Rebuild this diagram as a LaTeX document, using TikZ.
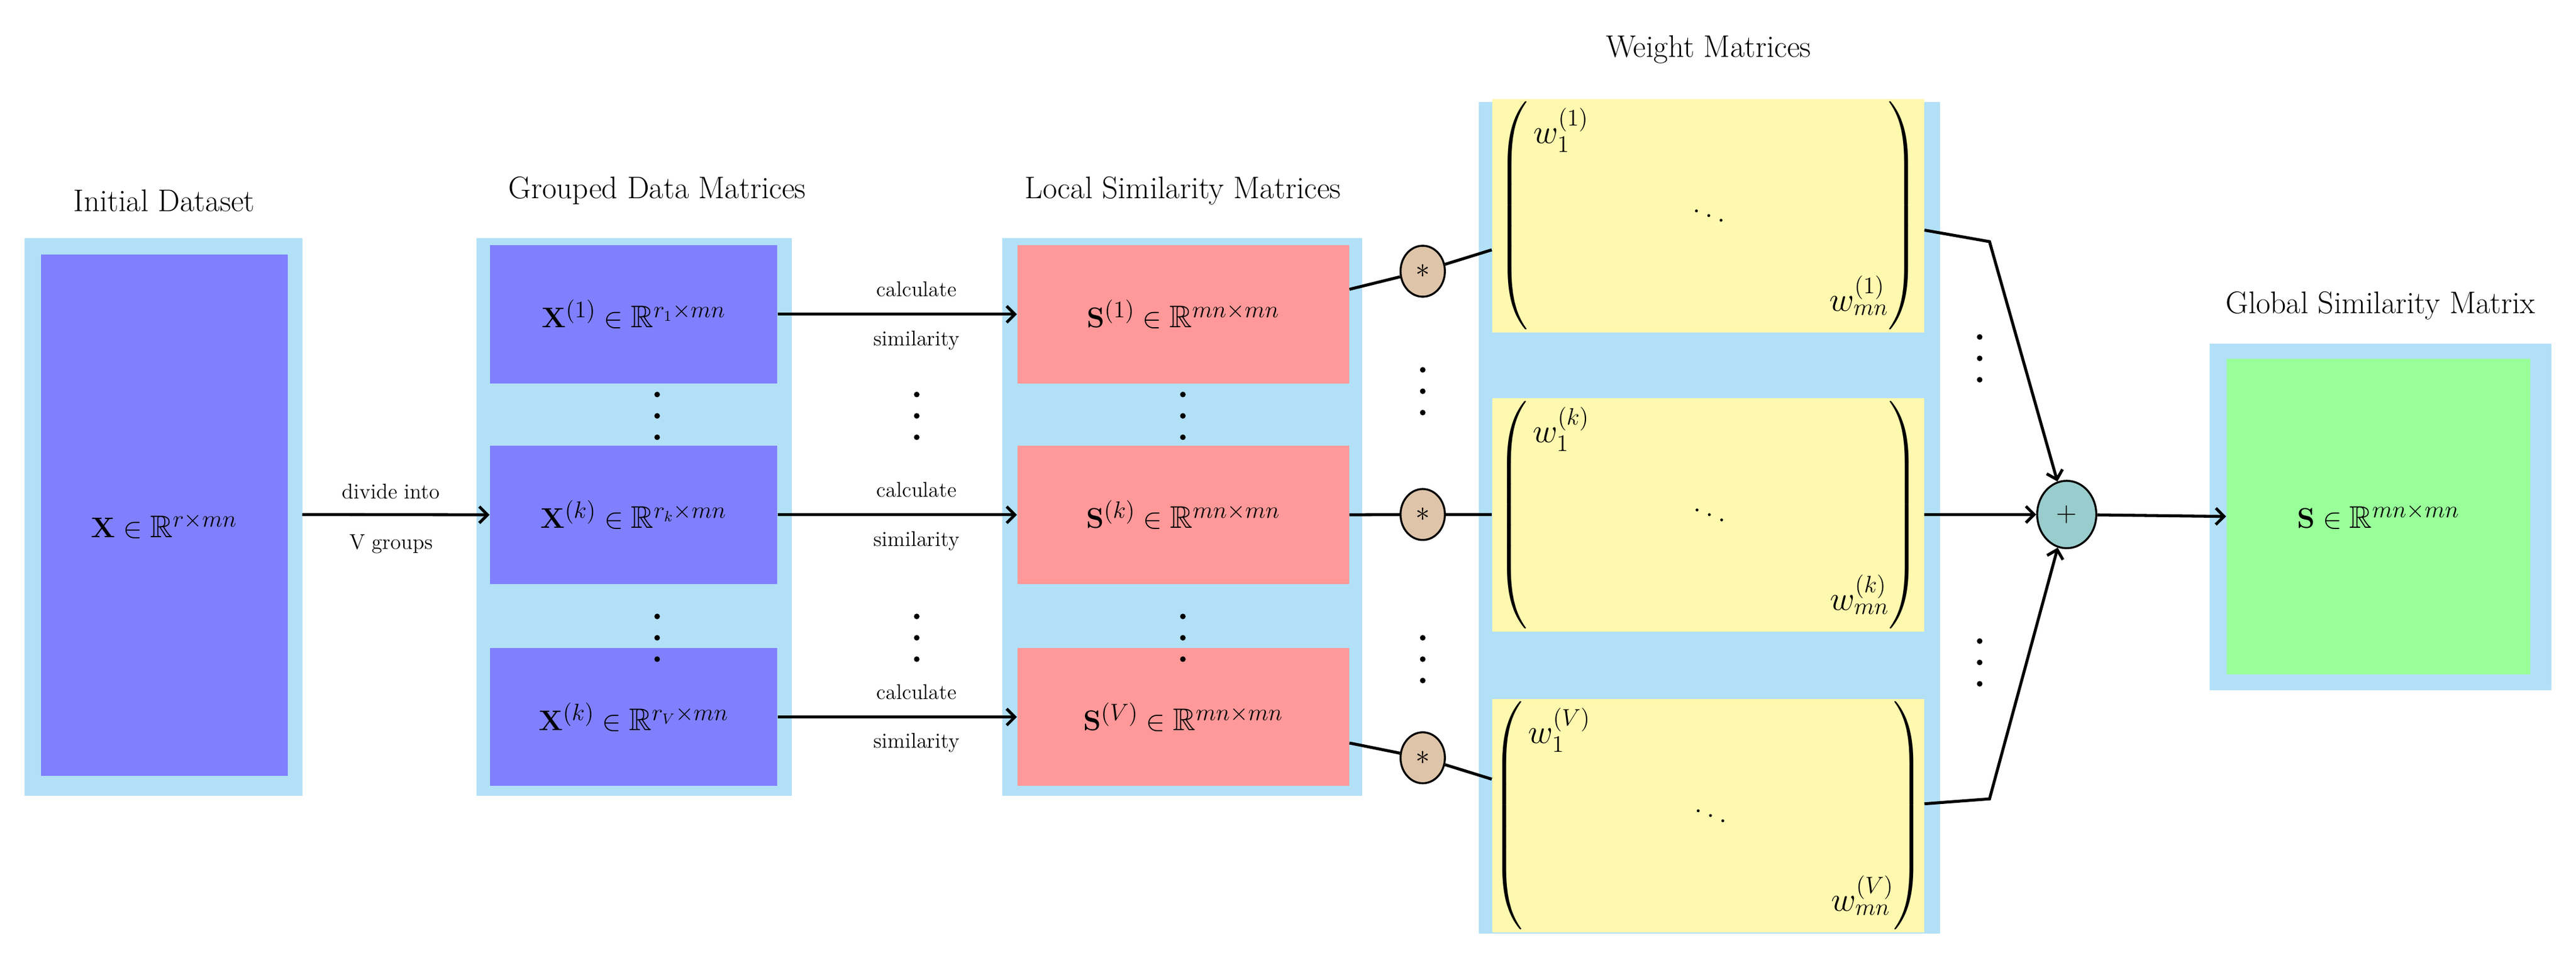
\documentclass[tikz,border=0pt]{standalone}
\usepackage{amsmath,amssymb}
\usetikzlibrary{shapes.geometric,arrows.meta}
\definecolor{lb}{RGB}{178,224,247}
\definecolor{pu}{RGB}{128,128,255}
\definecolor{rd}{RGB}{255,153,153}
\definecolor{ye}{RGB}{255,248,175}
\definecolor{gr}{RGB}{153,255,153}
\definecolor{tan1}{RGB}{222,196,168}
\definecolor{teal1}{RGB}{153,204,204}
\begin{document}
\fontsize{19}{23}\selectfont
\begin{tikzpicture}[x=1pt,y=-1pt,
  lab/.style={font=\fontsize{13}{15}\selectfont},
  ttl/.style={font=\fontsize{19}{23}\selectfont},
  con/.style={line width=1.8pt},
  arr/.style={line width=1.8pt,->,>={Straight Barb[length=5pt,width=10pt]}},
  star/.style={ellipse,draw,line width=1.2pt,fill=tan1,minimum width=27pt,minimum height=31pt,inner sep=0pt},
  plus/.style={ellipse,draw,line width=1.2pt,fill=teal1,minimum width=36pt,minimum height=41pt,inner sep=0pt}]
\useasboundingbox (0,0) rectangle (1568,584);
\fill[white] (0,0) rectangle (1568,584);
% Initial
\fill[lb] (15,145) rectangle (184,484);
\fill[pu] (25,155) rectangle (175,472);
\node[ttl] (t1) at (100,122) {Initial Dataset};
\node (x) at (100,320) {$\mathbf{X}\in\mathbb{R}^{r\times mn}$};
\coordinate (xr) at (184,313);
% grouped
\fill[lb] (290,145) rectangle (482,484);
\node[ttl] (t2) at (400,116) {Grouped Data Matrices};
\foreach \i/\y/\t in {1/149/{\mathbf{X}^{(1)}\in\mathbb{R}^{r_1\times mn}},2/271/{\mathbf{X}^{(k)}\in\mathbb{R}^{r_k\times mn}},3/394/{\mathbf{X}^{(k)}\in\mathbb{R}^{r_V\times mn}}}{
  \node[fill=pu,minimum width=175pt,minimum height=84pt,anchor=north west,inner sep=0pt] (g\i) at (298,\y) {$\t$};
}
\draw[arr] (xr) -- (g2.west);
\node[lab] (d1) at (238,299) {divide into};
\node[lab] (d2) at (238,331) {V groups};
% local
\fill[lb] (610,145) rectangle (829,484);
\foreach \i/\y/\t in {1/149/{\mathbf{S}^{(1)}\in\mathbb{R}^{mn\times mn}},2/271/{\mathbf{S}^{(k)}\in\mathbb{R}^{mn\times mn}},3/394/{\mathbf{S}^{(V)}\in\mathbb{R}^{mn\times mn}}}{
  \node[fill=rd,minimum width=202pt,minimum height=84pt,anchor=north west,inner sep=0pt] (s\i) at (619,\y) {$\t$};
  \draw[arr] (g\i.east) -- (s\i.west);
  \node[lab] (c\i) at (558,\y+27) {calculate};
  \node[lab] (m\i) at (558,\y+58) {similarity};
}
\node[ttl] (t3) at (720,116) {Local Similarity Matrices};
% dots
\foreach \x in {400,558,720}{\foreach \y in {240,375}{\foreach \d in {0,13,26}{\fill (\x,\y+\d) circle (1.7pt);}}}
\foreach \x/\y in {866/225, 866/388, 1205/205, 1205/390, 1038/210, 1038/392}{\foreach \d in {0,13,26}{\fill (\x,\y+\d) circle (1.7pt);}}
% weight
\fill[lb] (900,62) rectangle (1181,568);
\node[ttl] (t4) at (1040,30) {Weight Matrices};
\foreach \i/\y/\k in {1/60/1,2/242/k,3/425/V}{
  \node[fill=ye,minimum width=263pt,minimum height=142pt,anchor=north west,inner sep=0pt,font=\fontsize{21}{25}\selectfont] (w\i) at (908,\y)
   {$\left(\begin{array}{@{\,}l@{\hspace{62pt}}c@{\hspace{62pt}}r@{}}w_1^{(\k)}&&\\[24pt]&\ddots&\\[24pt]&&w_{mn}^{(\k)}\end{array}\right)$};
}
% stars
\node[star] (a1) at (866,165) {$\ast$};
\node[star] (a2) at (866,313) {$\ast$};
\node[star] (a3) at (866,461) {$\ast$};
\draw[con] (s1.east|-0,176) -- (a1);
\draw[con] (a1) -- (w1.west|-0,152);
\draw[con] (s2.east) -- (a2) -- (w2.west|-0,313);
\draw[con] (s3.east|-0,452) -- (a3);
\draw[con] (a3) -- (w3.west|-0,474);
% plus
\node[plus] (p) at (1258,313) {$+$};
\coordinate (b1) at (1211,147);
\coordinate (b3) at (1211,486);
\draw[arr] (w1.east|-0,140) -- (b1) -- (p);
\draw[arr] (w2.east|-0,313) -- (p);
\draw[arr] (w3.east|-0,489) -- (b3) -- (p);
% global
\fill[lb] (1345,209) rectangle (1553,420);
\node[fill=gr,minimum width=185pt,minimum height=192pt,anchor=north west,inner sep=0pt] (gs) at (1355,218) {$\mathbf{S}\in\mathbb{R}^{mn\times mn}$};
\node[ttl] (t5) at (1449,186) {Global Similarity Matrix};
\draw[arr] (p) -- (gs.west);
\end{tikzpicture}
\end{document}
